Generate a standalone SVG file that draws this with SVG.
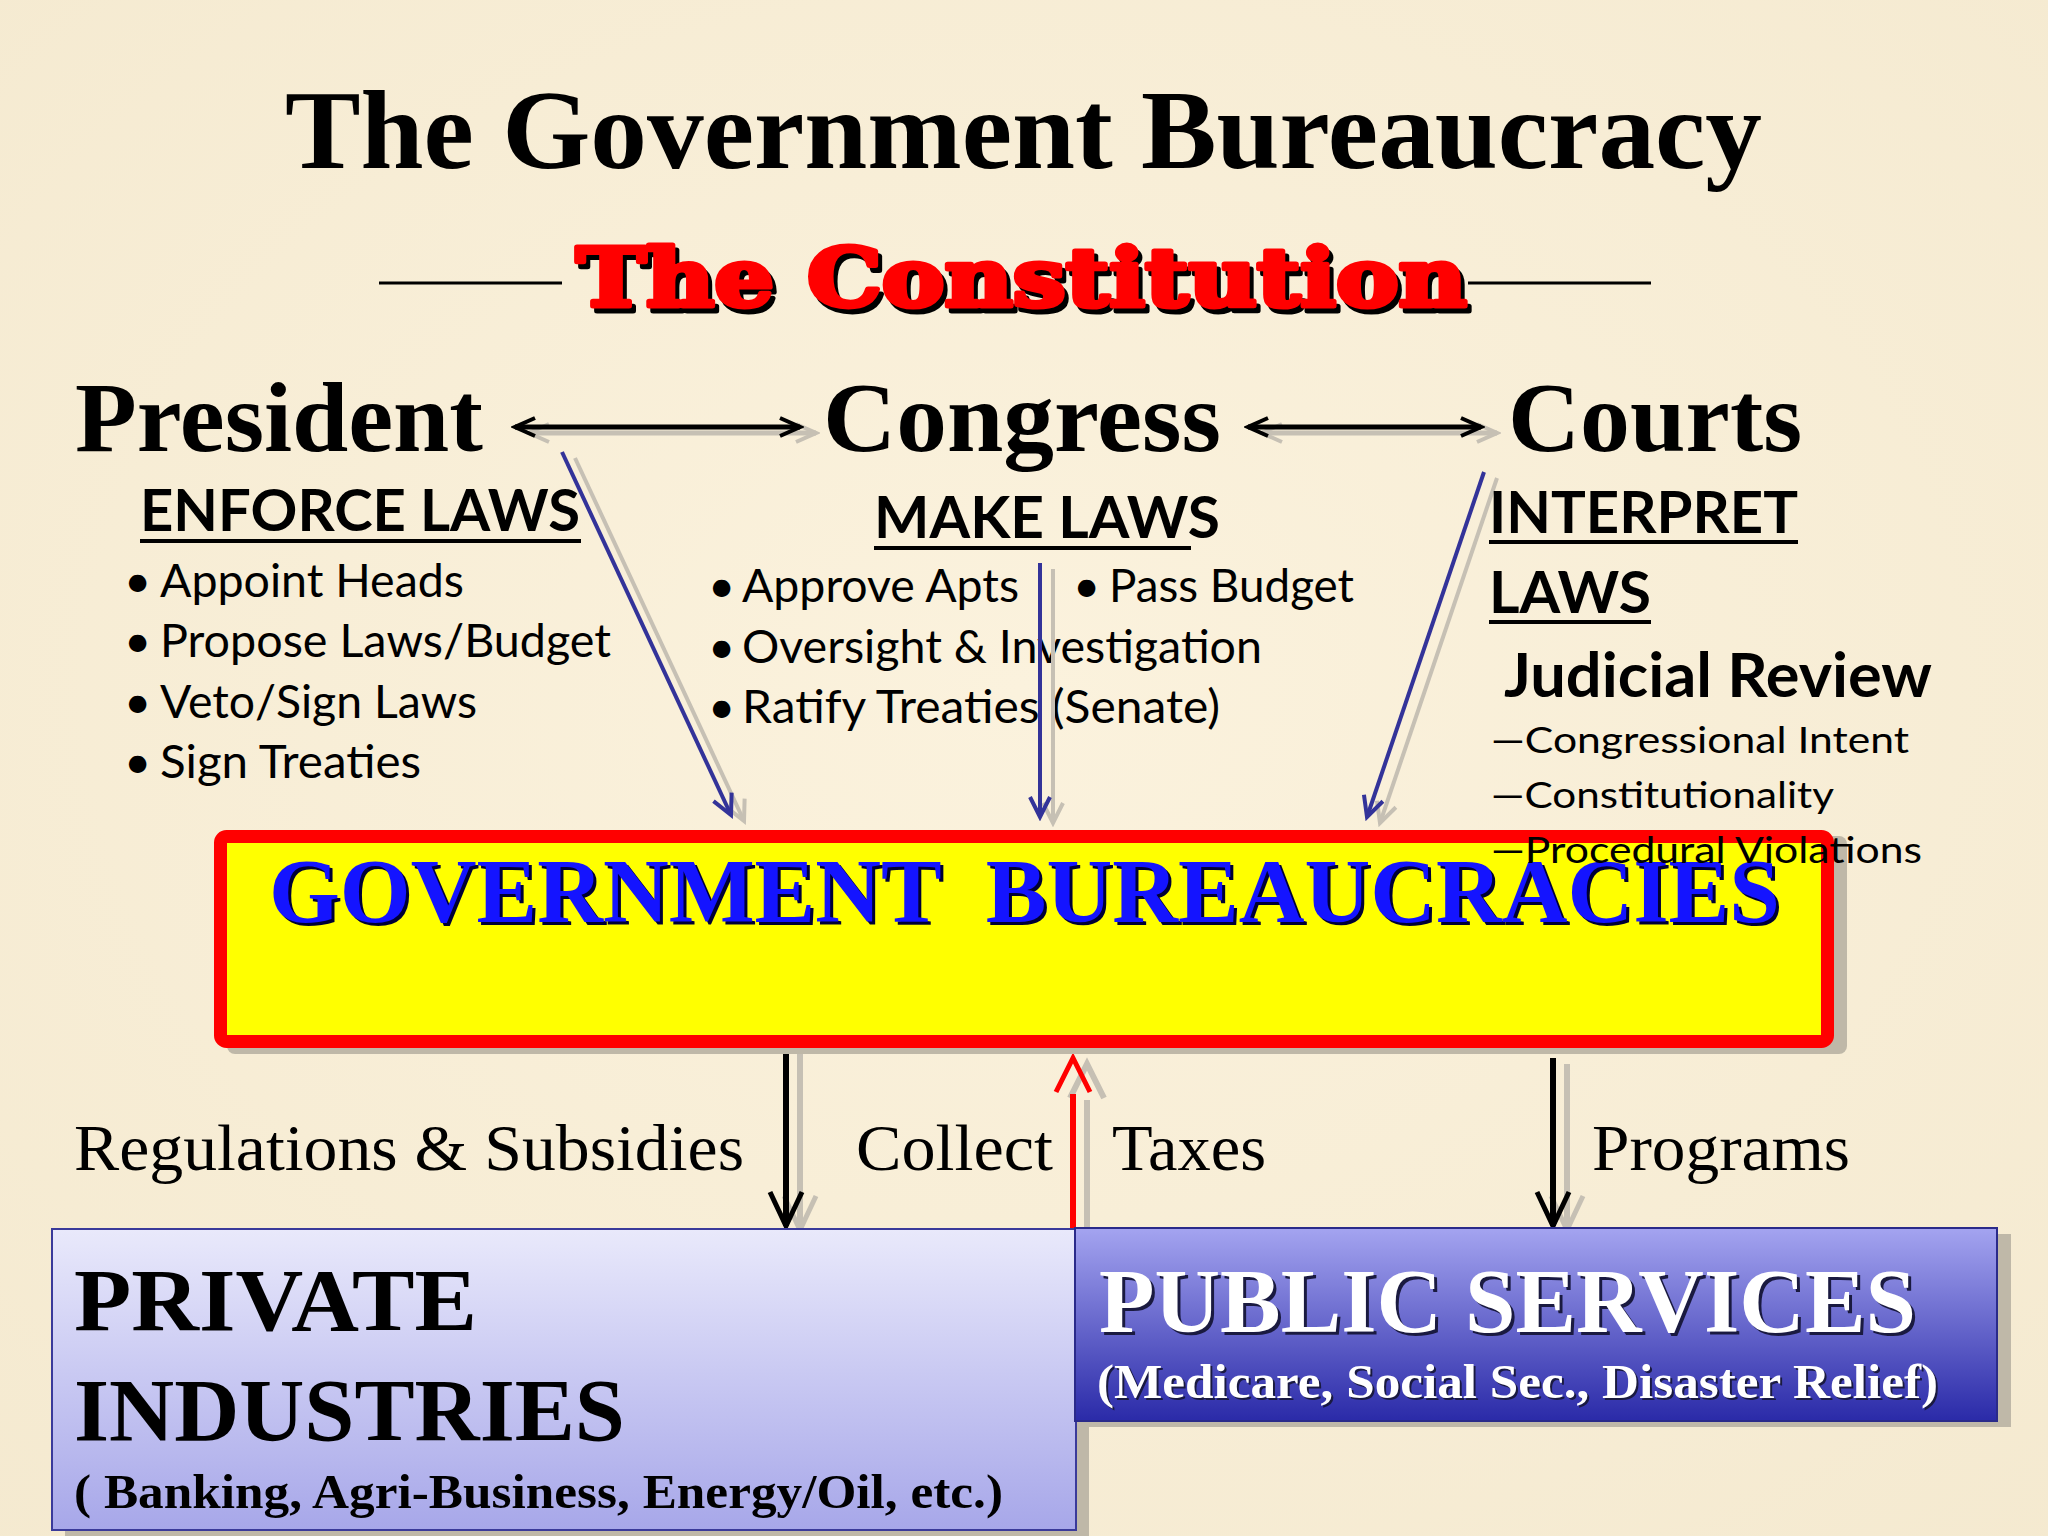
<svg xmlns="http://www.w3.org/2000/svg" width="2048" height="1536" viewBox="0 0 2048 1536">
<defs>
<style>
.tnr{font-family:"Liberation Serif","Times New Roman",serif;}
.cal{font-family:Lato,"Liberation Sans",sans-serif;}
.hd{font-family:Lato,"Liberation Sans",sans-serif;font-weight:bold;font-size:58px;fill:#000;}
.bul{font-family:Lato,"Liberation Sans",sans-serif;font-size:47px;fill:#000;}
.dash{font-family:Lato,"Liberation Sans",sans-serif;font-size:37px;fill:#000;}
.ul{stroke:#000;stroke-width:4;}
.branch{font-family:"Liberation Serif","Times New Roman",serif;font-weight:bold;font-size:100px;fill:#000;}
.lbl{font-family:"Liberation Serif","Times New Roman",serif;font-size:66px;fill:#000;}
.blue{stroke:#333399;stroke-width:4;fill:none;}
.bsh{stroke:#c6c0b4;stroke-width:4;fill:none;}
.blk{stroke:#000;stroke-width:5;fill:none;}
.blkSh{stroke:#c6c0b4;stroke-width:5;fill:none;}
.blk6{stroke:#000;stroke-width:6;fill:none;}
.red6{stroke:#ff0000;stroke-width:6;fill:none;}
.sh6{stroke:#c6c0b4;stroke-width:6;fill:none;}
.boxsh{fill:#bfb8a8;}
.con{font-family:"DejaVu Serif",serif;font-weight:bold;font-size:80px;stroke-width:5;stroke-linejoin:round;}
</style>
<linearGradient id="gPriv" x1="0" y1="0" x2="0" y2="1">
<stop offset="0" stop-color="#e9e9fb"/>
<stop offset="1" stop-color="#a7a7e9"/>
</linearGradient>
<linearGradient id="gPub" x1="0" y1="0" x2="0" y2="1">
<stop offset="0" stop-color="#a4a4f0"/>
<stop offset="1" stop-color="#2a2aa8"/>
</linearGradient>
<radialGradient id="gBg" cx="0.5" cy="0.45" r="0.8">
<stop offset="0" stop-color="#fbf2dd"/>
<stop offset="1" stop-color="#f4e9cf"/>
</radialGradient>
<marker id="mBlue" viewBox="-2 -2 26 24" refX="20" refY="10" markerWidth="26" markerHeight="24" markerUnits="userSpaceOnUse" orient="auto">
<path d="M0,0 L20,10 L0,20" fill="none" stroke="#333399" stroke-width="4"/>
</marker>
<marker id="mBlueSh" viewBox="-2 -2 26 24" refX="20" refY="10" markerWidth="26" markerHeight="24" markerUnits="userSpaceOnUse" orient="auto">
<path d="M0,0 L20,10 L0,20" fill="none" stroke="#c6c0b4" stroke-width="4"/>
</marker>
<marker id="mBlk" viewBox="-2 -2 26 22" refX="20" refY="9" markerWidth="26" markerHeight="22" markerUnits="userSpaceOnUse" orient="auto-start-reverse">
<path d="M0,0 L20,9 L0,18" fill="none" stroke="#000" stroke-width="4"/>
</marker>
<marker id="mBlkSh" viewBox="-2 -2 26 22" refX="20" refY="9" markerWidth="26" markerHeight="22" markerUnits="userSpaceOnUse" orient="auto-start-reverse">
<path d="M0,0 L20,9 L0,18" fill="none" stroke="#c6c0b4" stroke-width="4"/>
</marker>
<marker id="mBig" viewBox="-3 -3 40 38" refX="34" refY="16" markerWidth="40" markerHeight="38" markerUnits="userSpaceOnUse" orient="auto">
<path d="M0,0 L34,16 L0,32" fill="none" stroke="#000" stroke-width="5"/>
</marker>
<marker id="mBigSh" viewBox="-3 -3 40 38" refX="34" refY="16" markerWidth="40" markerHeight="38" markerUnits="userSpaceOnUse" orient="auto">
<path d="M0,0 L34,16 L0,32" fill="none" stroke="#c6c0b4" stroke-width="5"/>
</marker>
</defs>

<rect x="0" y="0" width="2048" height="1536" fill="url(#gBg)"/>

<g id="title">
<text class="tnr" x="285" y="168" font-size="113" font-weight="bold" textLength="1477" lengthAdjust="spacingAndGlyphs">The Government Bureaucracy</text>
</g>

<g id="constitution">
<line x1="379" y1="283" x2="562" y2="283" stroke="#000" stroke-width="3"/>
<line x1="1468" y1="283" x2="1651" y2="283" stroke="#000" stroke-width="3"/>
<text class="con" x="580" y="311" fill="#000" stroke="#000" textLength="891" lengthAdjust="spacingAndGlyphs">The Constitution</text>
<text class="con" x="576" y="306" fill="#ff0000" stroke="#ff0000" textLength="891" lengthAdjust="spacingAndGlyphs">The Constitution</text>
</g>

<g id="president">
<text class="branch" x="75" y="451" textLength="408" lengthAdjust="spacingAndGlyphs">President</text>
<text class="hd" x="140" y="531" textLength="440" lengthAdjust="spacingAndGlyphs">ENFORCE LAWS</text>
<line class="ul" x1="140" y1="541" x2="581" y2="541"/>
<text class="bul" x="124" y="597">•</text>
<text class="bul" x="160" y="597" textLength="304" lengthAdjust="spacingAndGlyphs">Appoint Heads</text>
<text class="bul" x="124" y="657">•</text>
<text class="bul" x="160" y="657" textLength="451" lengthAdjust="spacingAndGlyphs">Propose Laws/Budget</text>
<text class="bul" x="124" y="718">•</text>
<text class="bul" x="160" y="718" textLength="317" lengthAdjust="spacingAndGlyphs">Veto/Sign Laws</text>
<text class="bul" x="124" y="778">•</text>
<text class="bul" x="160" y="778" textLength="261" lengthAdjust="spacingAndGlyphs">Sign Treaties</text>
</g>

<g id="congress">
<text class="branch" x="823" y="451" textLength="398" lengthAdjust="spacingAndGlyphs">Congress</text>
<text class="hd" x="874" y="538" textLength="346" lengthAdjust="spacingAndGlyphs">MAKE LAWS</text>
<line class="ul" x1="874" y1="548" x2="1191" y2="548"/>
<text class="bul" x="708" y="602">•</text>
<text class="bul" x="742" y="602" textLength="277" lengthAdjust="spacingAndGlyphs">Approve Apts</text>
<text class="bul" x="1073" y="602">•</text>
<text class="bul" x="1109" y="602" textLength="245" lengthAdjust="spacingAndGlyphs">Pass Budget</text>
<text class="bul" x="708" y="663">•</text>
<text class="bul" x="742" y="663" textLength="520" lengthAdjust="spacingAndGlyphs">Oversight &amp; Investigation</text>
<text class="bul" x="708" y="723">•</text>
<text class="bul" x="742" y="723" textLength="478" lengthAdjust="spacingAndGlyphs">Ratify Treaties (Senate)</text>
</g>

<g id="connectors">
<line class="blkSh" x1="529" y1="433" x2="816" y2="433" marker-start="url(#mBlkSh)" marker-end="url(#mBlkSh)"/>
<line class="blk" x1="515" y1="427" x2="800" y2="427" marker-start="url(#mBlk)" marker-end="url(#mBlk)"/>
<line class="blkSh" x1="1262" y1="433" x2="1497" y2="433" marker-start="url(#mBlkSh)" marker-end="url(#mBlkSh)"/>
<line class="blk" x1="1248" y1="427" x2="1481" y2="427" marker-start="url(#mBlk)" marker-end="url(#mBlk)"/>
<line class="bsh" x1="575" y1="458" x2="744" y2="821" marker-end="url(#mBlueSh)"/>
<line class="blue" x1="562" y1="452" x2="731" y2="815" marker-end="url(#mBlue)"/>
<line class="bsh" x1="1053" y1="569" x2="1053" y2="823" marker-end="url(#mBlueSh)"/>
<line class="blue" x1="1040" y1="563" x2="1040" y2="817" marker-end="url(#mBlue)"/>
<line class="bsh" x1="1497" y1="478" x2="1380" y2="823" marker-end="url(#mBlueSh)"/>
<line class="blue" x1="1484" y1="472" x2="1367" y2="817" marker-end="url(#mBlue)"/>
<line class="sh6" x1="800" y1="1048" x2="800" y2="1230" marker-end="url(#mBigSh)"/>
<line class="blk6" x1="786" y1="1042" x2="786" y2="1226" marker-end="url(#mBig)"/>
<line class="sh6" x1="1087" y1="1234" x2="1087" y2="1100"/>
<path class="sh6" d="M1070,1098 L1087,1064 L1104,1098" stroke-width="5"/>
<line class="red6" x1="1073" y1="1228" x2="1073" y2="1094"/>
<path d="M1056,1092 L1073,1058 L1090,1092" fill="none" stroke="#ff0000" stroke-width="5"/>
<line class="sh6" x1="1567" y1="1064" x2="1567" y2="1230" marker-end="url(#mBigSh)"/>
<line class="blk6" x1="1553" y1="1058" x2="1553" y2="1226" marker-end="url(#mBig)"/>
</g>

<g id="bureaucracies">
<rect class="boxsh" x="227" y="836" width="1620" height="218" rx="8"/>
<rect x="220.5" y="836.5" width="1607" height="205" rx="6" fill="#ffff00" stroke="#ff0000" stroke-width="13"/>
<text class="tnr" x="272" y="925" font-size="90" font-weight="bold" fill="#000033" textLength="1511" lengthAdjust="spacingAndGlyphs" xml:space="preserve">GOVERNMENT  BUREAUCRACIES</text>
<text class="tnr" x="269" y="922" font-size="90" font-weight="bold" fill="#1414ff" textLength="1511" lengthAdjust="spacingAndGlyphs" xml:space="preserve">GOVERNMENT  BUREAUCRACIES</text>
</g>

<g id="courts">
<text class="branch" x="1508" y="451" textLength="294" lengthAdjust="spacingAndGlyphs">Courts</text>
<text class="hd" x="1489" y="533" textLength="309" lengthAdjust="spacingAndGlyphs">INTERPRET</text>
<line class="ul" x1="1489" y1="542" x2="1798" y2="542"/>
<text class="hd" x="1489" y="613" textLength="162" lengthAdjust="spacingAndGlyphs">LAWS</text>
<line class="ul" x1="1489" y1="622" x2="1651" y2="622"/>
<text class="cal" x="1504" y="697" font-size="61" font-weight="bold" textLength="428" lengthAdjust="spacingAndGlyphs">Judicial Review</text>
<text class="dash" x="1491" y="753" textLength="418" lengthAdjust="spacingAndGlyphs">—Congressional Intent</text>
<text class="dash" x="1491" y="808" textLength="343" lengthAdjust="spacingAndGlyphs">—Constitutionality</text>
<text class="dash" x="1491" y="863" textLength="431" lengthAdjust="spacingAndGlyphs">—Procedural Violations</text>
</g>

<g id="labels">
<text class="lbl" x="74" y="1170" textLength="670" lengthAdjust="spacingAndGlyphs">Regulations &amp; Subsidies</text>
<text class="lbl" x="856" y="1170" textLength="197" lengthAdjust="spacingAndGlyphs">Collect</text>
<text class="lbl" x="1112" y="1170" textLength="154" lengthAdjust="spacingAndGlyphs">Taxes</text>
<text class="lbl" x="1592" y="1170" textLength="258" lengthAdjust="spacingAndGlyphs">Programs</text>
</g>

<g id="private">
<rect class="boxsh" x="65" y="1235" width="1024" height="301"/>
<rect x="52" y="1229" width="1024" height="301" fill="url(#gPriv)" stroke="#3a3a9a" stroke-width="2"/>
<text class="tnr" x="74" y="1330" font-size="88" font-weight="bold" textLength="403" lengthAdjust="spacingAndGlyphs">PRIVATE</text>
<text class="tnr" x="74" y="1440" font-size="88" font-weight="bold" textLength="551" lengthAdjust="spacingAndGlyphs">INDUSTRIES</text>
<text class="tnr" x="74" y="1508" font-size="48" font-weight="bold" textLength="929" lengthAdjust="spacingAndGlyphs">( Banking, Agri-Business, Energy/Oil, etc.)</text>
</g>

<g id="public">
<rect class="boxsh" x="1089" y="1234" width="922" height="193"/>
<rect x="1075" y="1228" width="922" height="193" fill="url(#gPub)" stroke="#2a2a8a" stroke-width="2"/>
<text class="tnr" x="1102" y="1335" font-size="90" font-weight="bold" fill="#1a1a40" textLength="817" lengthAdjust="spacingAndGlyphs">PUBLIC SERVICES</text>
<text class="tnr" x="1099" y="1332" font-size="90" font-weight="bold" fill="#ffffff" textLength="817" lengthAdjust="spacingAndGlyphs">PUBLIC SERVICES</text>
<text class="tnr" x="1099" y="1400" font-size="48" font-weight="bold" fill="#1a1a40" textLength="841" lengthAdjust="spacingAndGlyphs">(Medicare, Social Sec., Disaster Relief)</text>
<text class="tnr" x="1097" y="1398" font-size="48" font-weight="bold" fill="#ffffff" textLength="841" lengthAdjust="spacingAndGlyphs">(Medicare, Social Sec., Disaster Relief)</text>
</g>
</svg>
